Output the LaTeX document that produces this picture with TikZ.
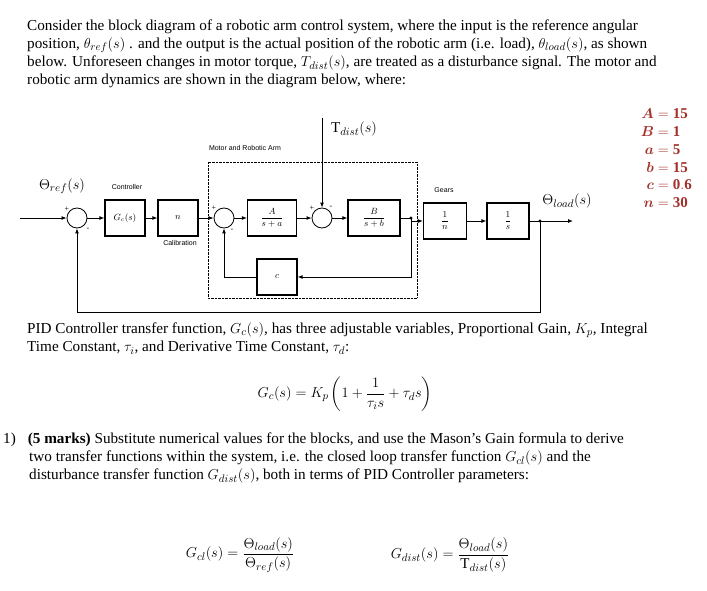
\documentclass[tikz,border=0pt]{standalone}
\usepackage{fontspec}
\usepackage{amsmath}
\setmainfont{Liberation Serif}
\setsansfont{Liberation Sans}
\usetikzlibrary{arrows.meta}
\definecolor{parc}{HTML}{A3302B}
\begin{document}
\begin{tikzpicture}[x=1pt,y=-1pt,
  blk/.style={draw,line width=1.2pt,minimum width=40pt,minimum height=36pt,inner sep=1pt,font=\fontsize{9}{10}\selectfont},
  sumc/.style={draw,line width=0.8pt,circle,minimum size=20pt,inner sep=0pt},
  sig/.style={-{Latex[length=5pt,width=4pt]},line width=0.9pt},
  ln/.style={line width=0.9pt},
  lab/.style={font=\sffamily\fontsize{7}{8}\selectfont},
  txt/.style={anchor=west,inner sep=0pt,font=\fontsize{15.2}{16}\selectfont},
  sgn/.style={font=\fontsize{8}{8}\selectfont,inner sep=0pt}]
\useasboundingbox (0,0) rectangle (707,591);
\fill[white] (0,0) rectangle (707,591);
% text
\node[txt] at (27,27) {Consider the block diagram of a robotic arm control system, where the input is the reference angular};
\node[txt] at (27,45) {position, $\theta_{ref}(s)$ . and the output is the actual position of the robotic arm (i.e. load), $\theta_{load}(s)$, as shown};
\node[txt] at (27,63) {below. Unforeseen changes in motor torque, $T_{dist}(s)$, are treated as a disturbance signal. The motor and};
\node[txt] at (27,81) {robotic arm dynamics are shown in the diagram below, where:};
% diagram
\draw[densely dotted] (208,162) rectangle (417,298);
\node[lab] at (245,148) {Motor and Robotic Arm};
\node[lab] at (127,187) {Controller};
\node[lab] at (180,243) {Calibration};
\node[lab] at (444,190) {Gears};
\node[sumc] (s1) at (77,218) {};
\node[blk] (gc) at (125,218) {$G_c(s)$};
\node[blk] (n) at (178,218) {$n$};
\node[sumc] (s2) at (224,218) {};
\node[blk,minimum width=49pt] (A) at (272,218) {$\dfrac{A}{s+a}$};
\node[sumc] (s3) at (322,218) {};
\node[blk,minimum width=52pt] (B) at (374,218) {$\dfrac{B}{s+b}$};
\node[blk,minimum width=43pt] (g) at (445,221) {$\dfrac{1}{n}$};
\node[blk,minimum width=42pt] (is) at (508,221) {$\dfrac{1}{s}$};
\node[blk] (c) at (277,277) {$c$};
\coordinate (in) at (20,218);
\coordinate (br) at (411,218);
\coordinate (od) at (540,221);
\coordinate (out) at (573,221);
\coordinate (td) at (322,118);
\draw[sig] (in) -- (s1);
\draw[sig] (s1) -- (gc);
\draw[sig] (gc) -- (n);
\draw[sig] (n) -- (s2);
\draw[sig] (s2) -- (A);
\draw[sig] (A) -- (s3);
\draw[sig] (s3) -- (B);
\draw[ln] (B.east) -- (br);
\draw[sig] (br) -- (br |- g) -- (g);
\draw[sig] (g) -- (is);
\draw[ln] (is.east) -- (od);
\draw[sig] (od) -- (out);
\fill (br) circle (1.6pt);
\fill (od) circle (1.6pt);
\draw[sig] (br) -- (br |- c) -- (c);
\draw[sig] (c) -| (s2);
\draw[sig] (td) -- (s3);
\draw[sig] (od) -- (540,312) -| (s1);
\node[sgn] at (67,209) {+};
\node[sgn] at (88,229) {-};
\node[sgn] at (214,208) {+};
\node[sgn] at (232,230) {-};
\node[sgn] at (312,208) {+};
\node[sgn] at (331,207) {-};
\node[font=\fontsize{15}{16}\selectfont] at (62,186) {$\Theta_{ref}(s)$};
\node[font=\fontsize{15}{16}\selectfont] at (567,201) {$\Theta_{load}(s)$};
\node[font=\fontsize{15}{16}\selectfont] at (354,129) {$\mathrm{T}_{dist}(s)$};
\node[anchor=north east,inner sep=0pt,text=parc,font=\fontsize{15}{17.8}\selectfont] at (692,106)
 {\begin{tabular}{@{}r@{${}={}$}l@{}}$\boldsymbol{A}$&$\mathbf{15}$\\$\boldsymbol{B}$&$\mathbf{1}$\\$\boldsymbol{a}$&$\mathbf{5}$\\$\boldsymbol{b}$&$\mathbf{15}$\\$\boldsymbol{c}$&$\mathbf{0.6}$\\$\boldsymbol{n}$&$\mathbf{30}$\end{tabular}};
% lower text
\node[txt] at (27,330) {PID Controller transfer function, $G_c(s)$, has three adjustable variables, Proportional Gain, $K_p$, Integral};
\node[txt] at (27,348) {Time Constant, $\tau_i$, and Derivative Time Constant, $\tau_d$:};
\node[font=\fontsize{15}{17}\selectfont,inner sep=1pt] at (345,394) {$G_c(s)=K_p\left(1+\dfrac{1}{\tau_i s}+\tau_d s\right)$};
\node[txt] at (3,440) {1)\hspace{12pt}\textbf{(5 marks)} Substitute numerical values for the blocks, and use the Mason's Gain formula to derive};
\node[txt] at (29,458) {two transfer functions within the system, i.e. the closed loop transfer function $G_{cl}(s)$ and the};
\node[txt] at (29,476) {disturbance transfer function $G_{dist}(s)$, both in terms of PID Controller parameters:};
\node[font=\fontsize{15}{17}\selectfont] at (240,555) {$G_{cl}(s)=\dfrac{\Theta_{load}(s)}{\Theta_{ref}(s)}$};
\node[font=\fontsize{15}{17}\selectfont] at (450,555) {$G_{dist}(s)=\dfrac{\Theta_{load}(s)}{\mathrm{T}_{dist}(s)}$};
\end{tikzpicture}
\end{document}
